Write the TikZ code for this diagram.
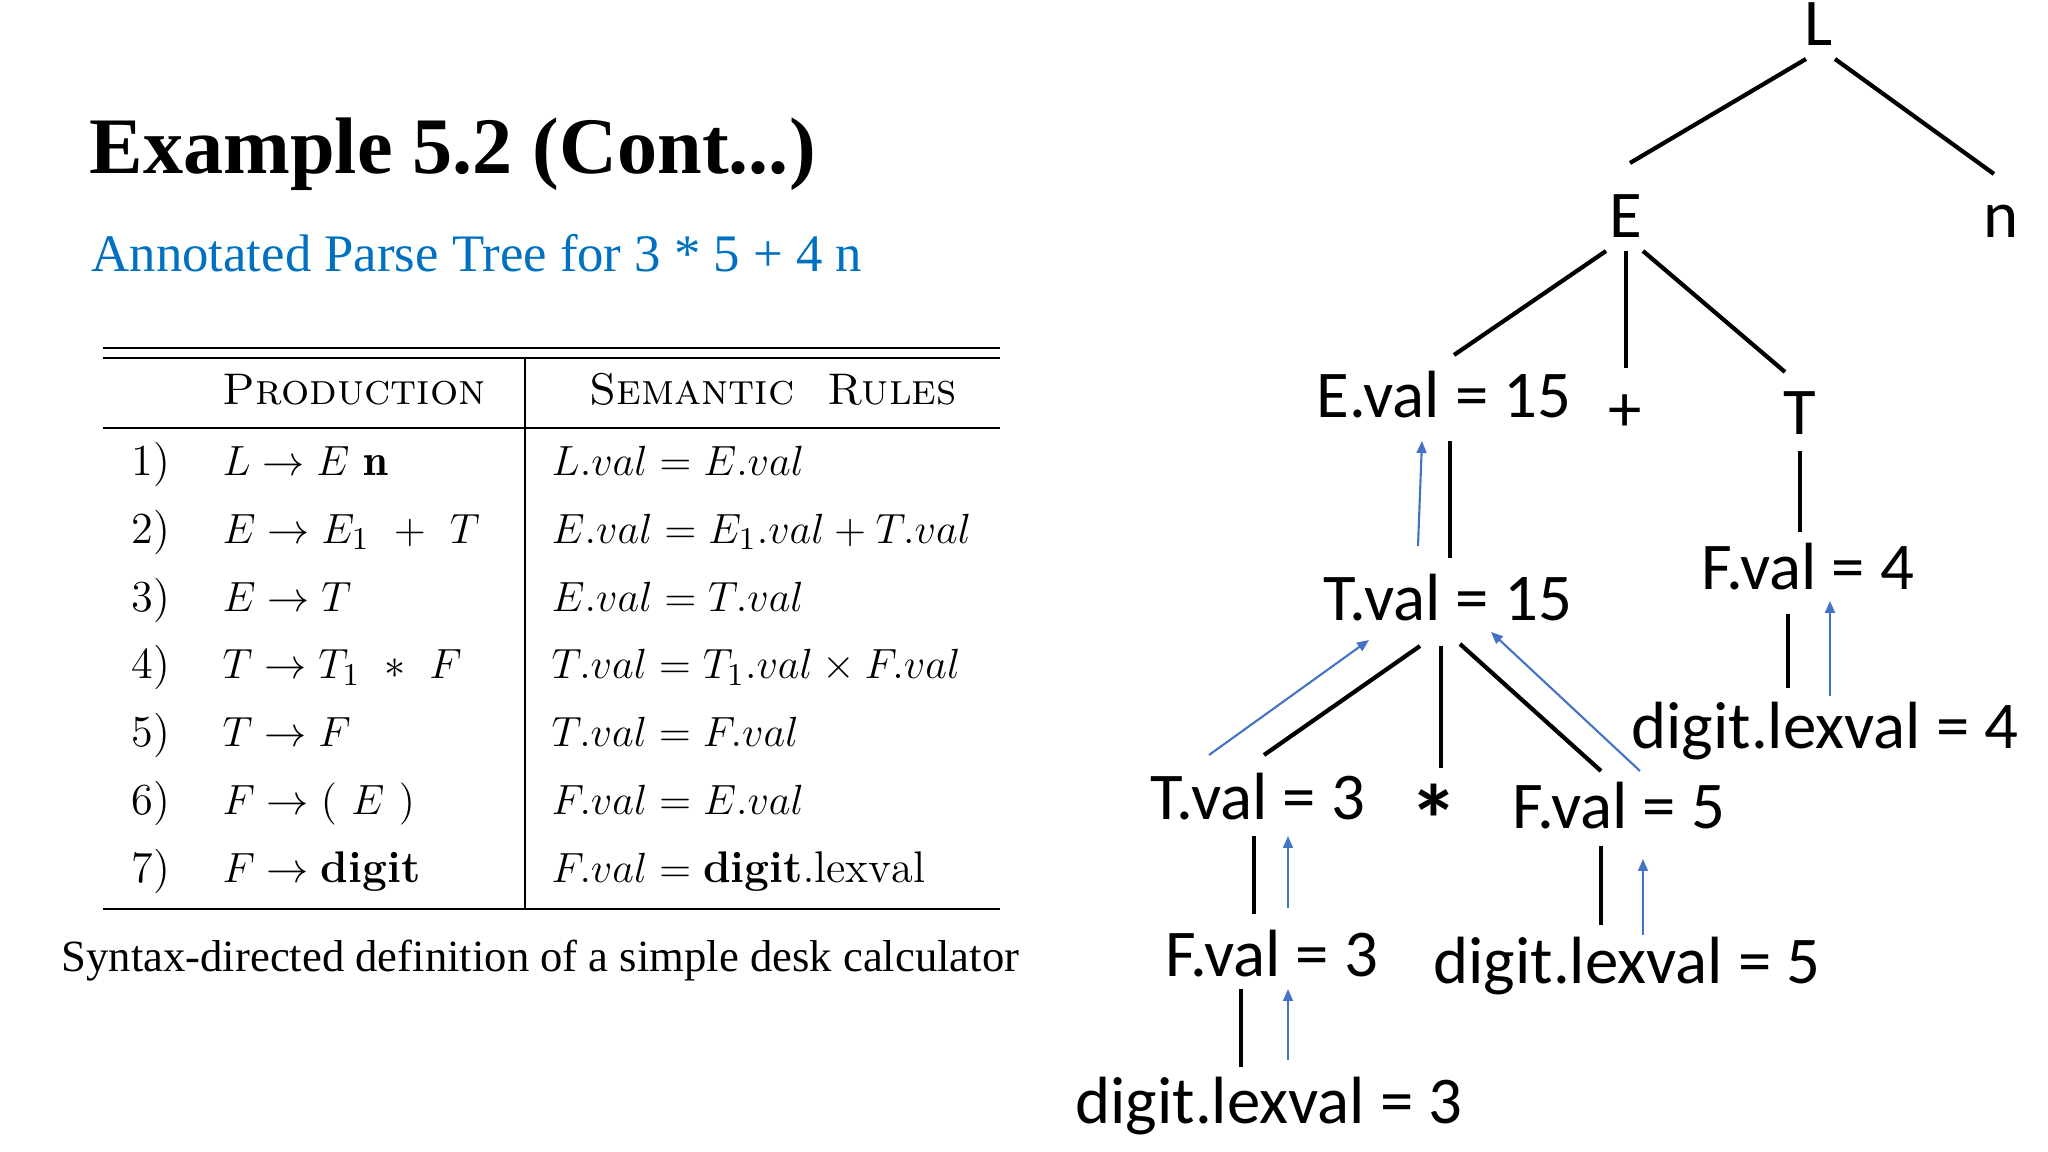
\documentclass[tikz,border=0pt]{standalone}
\usepackage{fontspec}
\usepackage{tikz}
\usetikzlibrary{calc, arrows.meta}
\newfontfamily\treefont{Carlito}
\newfontfamily\slidefont{Liberation Serif}
\definecolor{headblue}{RGB}{0,112,192}
\definecolor{synblue}{RGB}{68,114,196}

\begin{document}
\begin{tikzpicture}[x=0.01cm, y=-0.01cm,
        cell/.style={anchor=base west, inner sep=0pt, font=\fontsize{12.6}{15}\selectfont},
        tnode/.style={anchor=base, inner sep=0pt, font=\treefont\fontsize{19}{22}\selectfont},
        edge/.style={line width=1.2pt},
        synarrow/.style={synblue, line width=0.6pt, -{Triangle[length=3.4pt, width=2.8pt]}},
        rule/.style={line width=0.6pt}]
    \useasboundingbox (0,0) rectangle (2048,1152);

    % Title
    \node[anchor=base west, inner sep=0pt, font=\slidefont\bfseries\fontsize{22.8}{26}\selectfont] (title) at (89,174) {Example 5.2 (Cont...)};
    \node[anchor=base west, inner sep=0pt, text=headblue, font=\slidefont\fontsize{15}{18}\selectfont] (subtitle) at (91,272) {Annotated Parse Tree for 3 * 5 + 4 n};

    % Table
    \draw[rule] (103,348) -- (1000,348);
    \draw[rule] (103,358) -- (1000,358);
    \draw[rule] (103,428) -- (1000,428);
    \draw[rule] (103,909) -- (1000,909);
    \draw[rule] (525,358) -- (525,909);
    \node[cell] (hprod) at (222,405) {\textsc{Production}};
    \node[cell, anchor=base] (hsem) at (773,405) {\textsc{Semantic\ \ Rules}};
    \foreach \i/\p/\s in {
        1/{L \rightarrow E\ \mathbf{n}}/{L.val = E.val},
        2/{E \rightarrow E_1\ +\ T}/{E.val = E_1.val + T.val},
        3/{E \rightarrow T}/{E.val = T.val},
        4/{T \rightarrow T_1\ \ast\ F}/{T.val = T_1.val \times F.val},
        5/{T \rightarrow F}/{T.val = F.val},
        6/{F \rightarrow (\ E\ )}/{F.val = E.val},
        7/{F \rightarrow \textbf{digit}}/{F.val = \textbf{digit}.\mathrm{lexval}}
    } {
        \node[cell] (num\i) at (131,{475.5+67.8*(\i-1)}) {\i)};
        \node[cell] (prod\i) at (222,{475.5+67.8*(\i-1)}) {$\p$};
        \node[cell] (sem\i) at (551,{475.5+67.8*(\i-1)}) {$\s$};
    }
    \node[anchor=base west, inner sep=0pt, font=\slidefont\fontsize{12.7}{15}\selectfont] (caption) at (61,971) {Syntax-directed definition of a simple desk calculator};

    % Parse tree
    \node[tnode] (L) at (1819,46) {L};
    \node[tnode] (E) at (1626,238) {E};
    \node[tnode] (n) at (2001,238) {n};
    \node[tnode] (Ev) at (1444,418) {E.val = 15};
    \node[tnode] (plus) at (1625,432) {+};
    \node[tnode] (T) at (1800,435) {T};
    \node[tnode] (Fv4) at (1808,590) {F.val = 4};
    \node[tnode] (d4) at (1825,748) {digit.lexval = 4};
    \node[tnode] (Tv) at (1448,620) {T.val = 15};
    \node[tnode] (T3) at (1258,819) {T.val = 3};
    \node[tnode, font=\treefont\bfseries\fontsize{28}{30}\selectfont] (star) at (1434,854) {*};
    \node[tnode] (F5) at (1619,828) {F.val = 5};
    \node[tnode] (F3) at (1272,976) {F.val = 3};
    \node[tnode] (d5) at (1627,983) {digit.lexval = 5};
    \node[tnode] (d3) at (1269,1123) {digit.lexval = 3};

    \foreach \a/\ax/\ay/\b/\bx/\by in {
        L/-13/13/E/4/-75, L/16/13/n/-7/-64,
        E/-20/13/Ev/10/-63, E/0/13/plus/1/-64, E/17/13/T/-15/-63,
        T/0/16/Fv4/-8/-58, Fv4/-20/24/d4/-37/-60,
        Ev/6/23/Tv/2/-62,
        Tv/-28/26/T3/6/-64, Tv/-7/26/star/7/-86, Tv/12/24/F5/-18/-57,
        T3/-4/17/F3/-18/-62, F3/-31/13/d3/-28/-56, F5/-18/18/d5/-26/-58
    }
        \draw[edge] ($(\a.base)+(\ax,\ay)$) -- ($(\b.base)+(\bx,\by)$);

    % Synthesized values
    \foreach \a/\ax/\ay/\b/\bx/\by in {
        Tv/-30/-74/Ev/-22/23, d4/5/-52/Fv4/22/11,
        T3/-49/-64/Tv/-79/20, F5/21/-57/Tv/43/12,
        F3/16/-68/T3/30/17, d3/19/-63/F3/16/13, d5/16/-48/F5/24/31
    }
        \draw[synarrow] ($(\a.base)+(\ax,\ay)$) -- ($(\b.base)+(\bx,\by)$);
\end{tikzpicture}
\end{document}
